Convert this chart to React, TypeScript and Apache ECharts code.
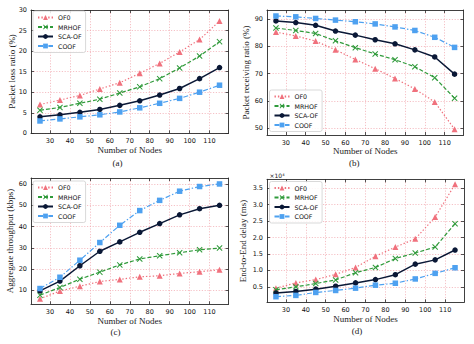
import React, { useEffect, useRef } from "react";
import * as echarts from "echarts";

const nodes = [25, 35, 45, 55, 65, 75, 85, 95, 105, 115];
const seriesNames = ["OF0", "MRHOF", "SCA-OF", "COOF"];

// (a) Packet loss ratio (%)
const lossOF0 = [7.0, 8.1, 9.2, 10.8, 12.3, 14.6, 17.0, 19.8, 22.8, 27.3];
const lossMRHOF = [5.6, 6.3, 7.3, 8.3, 9.8, 11.3, 13.3, 15.9, 18.8, 22.3];
const lossSCA = [4.0, 4.5, 5.1, 5.8, 6.8, 7.9, 9.3, 10.9, 13.3, 16.0];
const lossCOOF = [3.0, 3.5, 4.0, 4.5, 5.2, 6.2, 7.3, 8.5, 10.0, 11.7];

// (b) Packet receiving ratio (%)
const recvOF0 = [85.2, 83.8, 81.9, 78.7, 75.2, 71.8, 68.2, 64.4, 59.6, 49.6];
const recvMRHOF = [86.7, 85.8, 84.7, 82.0, 79.5, 77.2, 75.1, 72.5, 68.5, 61.0];
const recvSCA = [89.3, 88.7, 87.7, 85.6, 84.1, 82.4, 80.9, 78.7, 76.1, 69.8];
const recvCOOF = [91.1, 90.8, 90.2, 89.6, 89.0, 88.2, 87.1, 85.8, 83.3, 79.6];

// (c) Aggregate throughput (kbps)
const thrOF0 = [6.1, 9.7, 12.0, 14.2, 15.2, 16.4, 16.9, 18.0, 18.8, 19.7];
const thrMRHOF = [7.8, 11.4, 15.3, 18.6, 22.0, 24.8, 26.3, 27.7, 29.1, 29.9];
const thrSCA = [9.8, 14.4, 21.6, 28.4, 32.8, 37.3, 41.4, 45.5, 48.4, 50.0];
const thrCOOF = [10.9, 16.2, 24.2, 32.5, 40.6, 47.5, 52.3, 56.6, 58.8, 60.0];

// (d) End-to-End delay (ms, x1e4)
const delOF0 = [0.46, 0.62, 0.72, 0.88, 1.09, 1.43, 1.71, 1.96, 2.62, 3.62];
const delMRHOF = [0.41, 0.5, 0.6, 0.71, 0.93, 1.09, 1.36, 1.53, 1.71, 2.42];
const delSCA = [0.31, 0.36, 0.43, 0.52, 0.62, 0.72, 0.87, 1.19, 1.32, 1.62];
const delCOOF = [0.2, 0.24, 0.33, 0.39, 0.46, 0.55, 0.61, 0.74, 0.91, 1.08];

const xTicks = [30, 40, 50, 60, 70, 80, 90, 100, 110];
const yTicksA = [0, 5, 10, 15, 20, 25, 30];
const yTicksB = [50, 60, 70, 80, 90];
const yTicksC = [10, 20, 30, 40, 50, 60];
const yTicksD = [0.5, 1.0, 1.5, 2.0, 2.5, 3.0, 3.5];

const COLORS = ["#f0717d", "#2f9a3a", "#0a1836", "#4ea1f0"];
const DASHES: any[] = [[1.4, 2], [4, 2], "solid", [5, 2, 1.4, 2]];
const WIDTHS = [1.2, 1.2, 1.5, 1.2];
const XMARK = "path://M0,1.2L1.2,0L5,3.8L8.8,0L10,1.2L6.2,5L10,8.8L8.8,10L5,6.2L1.2,10L0,8.8L3.8,5Z";
const SYMBOLS = ["triangle", XMARK, "circle", "rect"];
const SIZES = [6, 6, 5.5, 5.5];

const panels = [
  { data: [lossOF0, lossMRHOF, lossSCA, lossCOOF], yMin: 0, yMax: 30, yTicks: yTicksA, dec: 0,
    grid: { left: 31, top: 10, width: 197.5, height: 123.3 } },
  { data: [recvOF0, recvMRHOF, recvSCA, recvCOOF], yMin: 47.5, yMax: 93.3, yTicks: yTicksB, dec: 0,
    grid: { left: 267, top: 10, width: 196.5, height: 125 } },
  { data: [thrOF0, thrMRHOF, thrSCA, thrCOOF], yMin: 3.5, yMax: 62.8, yTicks: yTicksC, dec: 0,
    grid: { left: 31, top: 178, width: 197.5, height: 126.3 } },
  { data: [delOF0, delMRHOF, delSCA, delCOOF], yMin: 0.03, yMax: 3.77, yTicks: yTicksD, dec: 1,
    grid: { left: 267, top: 179.3, width: 197, height: 123 } },
];

const legendPos = [
  { left: 33, top: 11 },
  { left: 269.5, top: 90 },
  { left: 33, top: 181 },
  { left: 269.5, top: 181.5 },
];

const AXIS_COLOR = "#2a2a2a";
const TICK_FONT = "DejaVu Sans";
const SERIF = "Liberation Serif";

export default function App() {
  const ref = useRef<HTMLDivElement>(null);
  useEffect(() => {
    if (!ref.current) return;
    const chart = echarts.init(ref.current, null, { renderer: "svg" });
    const grids: any[] = [];
    const xAxes: any[] = [];
    const yAxes: any[] = [];
    const series: any[] = [];
    const legends: any[] = [];
    panels.forEach((p, i) => {
      grids.push({ ...p.grid, containLabel: false });
      const axLine = { show: true, onZero: false, lineStyle: { color: AXIS_COLOR, width: 0.9 } };
      const split = { show: true, lineStyle: { color: "#f0a6ad", width: 0.7, type: [1.2, 1.6] } };
      const tick = (vals: number[]) => ({
        show: true, inside: true, length: 3, customValues: vals,
        lineStyle: { color: AXIS_COLOR, width: 0.8 },
      });
      const label = { fontSize: 6.5, fontFamily: TICK_FONT, color: "#111", margin: 4 };
      xAxes.push({
        gridIndex: i, type: "value", min: 20.5, max: 119.5, position: "bottom",
        axisLine: axLine, axisTick: tick(xTicks),
        axisLabel: { ...label, customValues: xTicks },
        splitLine: split,
      });
      xAxes.push({
        gridIndex: i, type: "value", min: 20.5, max: 119.5, position: "top",
        axisLine: axLine, axisTick: tick(xTicks),
        axisLabel: { show: false }, splitLine: { show: false },
      });
      yAxes.push({
        gridIndex: i, type: "value", min: p.yMin, max: p.yMax, position: "left",
        axisLine: axLine, axisTick: tick(p.yTicks),
        axisLabel: { ...label, customValues: p.yTicks, formatter: (v: number) => v.toFixed(p.dec) },
        splitLine: split,
      });
      yAxes.push({
        gridIndex: i, type: "value", min: p.yMin, max: p.yMax, position: "right",
        axisLine: axLine, axisTick: tick(p.yTicks),
        axisLabel: { show: false }, splitLine: { show: false },
      });
      p.data.forEach((vals, k) => {
        series.push({
          type: "line", name: seriesNames[k], xAxisIndex: 2 * i, yAxisIndex: 2 * i,
          data: nodes.map((n, j) => [n, vals[j]]),
          symbol: SYMBOLS[k], symbolSize: SIZES[k], showSymbol: true,
          lineStyle: { color: COLORS[k], width: WIDTHS[k], type: DASHES[k] },
          itemStyle: { color: COLORS[k], borderWidth: 0 },
          z: 2 + k,
        });
      });
      legends.push({
        ...legendPos[i], orient: "vertical", data: seriesNames,
        itemWidth: 15, itemHeight: 6, itemGap: 2.5,
        padding: [3, 4, 3, 4],
        backgroundColor: "rgba(255,255,255,0.85)", borderColor: "#cfcfcf", borderWidth: 0.8, borderRadius: 2,
        textStyle: { fontSize: 6.3, fontFamily: TICK_FONT, color: "#111", lineHeight: 7 },
        selectedMode: false,
      });
    });

    const txt = (text: string, x: number, y: number, opts: any = {}) => ({
      type: "text", x, y, rotation: opts.rotation || 0,
      style: {
        text, fontSize: opts.fontSize || 9, fontFamily: opts.fontFamily || SERIF, fill: "#1a1a1a",
        textAlign: opts.align || "center", textVerticalAlign: "middle",
      },
    });
    const graphics = [
      txt("Packet loss ratio (%)", 11.7, 71.5, { rotation: Math.PI / 2 }),
      txt("Packet receiving ratio (%)", 246.3, 72.5, { rotation: Math.PI / 2 }),
      txt("Aggregate throughput (kbps)", 10, 241, { rotation: Math.PI / 2 }),
      txt("End-to-End delay (ms)", 243, 241, { rotation: Math.PI / 2 }),
      txt("Number of Nodes", 129.8, 150),
      txt("Number of Nodes", 365.2, 151),
      txt("Number of Nodes", 129.8, 320.7),
      txt("Number of Nodes", 365.5, 319.3),
      txt("(a)", 117.5, 163),
      txt("(b)", 354.3, 163),
      txt("(c)", 115.5, 331.7),
      txt("(d)", 357, 331),
      txt("×10⁴", 269.5, 175, { fontSize: 6, fontFamily: TICK_FONT, align: "left" }),
    ];

    chart.setOption({
      animation: false,
      backgroundColor: "#fff",
      grid: grids,
      xAxis: xAxes,
      yAxis: yAxes,
      series,
      legend: legends,
      graphic: graphics,
    });
    return () => chart.dispose();
  }, []);
  return (
    <div
      ref={ref}
      style={{ position: "fixed", left: 0, top: 0, width: 474, height: 344, background: "#fff" }}
    />
  );
}
